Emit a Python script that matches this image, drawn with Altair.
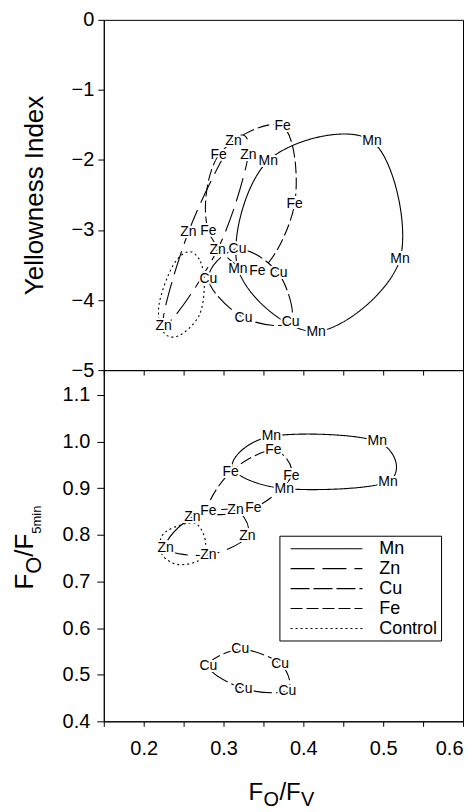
import altair as alt
import pandas as pd

FONT = "Liberation Sans"

series = ["Mn", "Zn", "Cu", "Fe", "Control"]
dashes = [[1, 0], [24, 8], [19, 4], [12, 4], [2, 3]]

x_ticks = [0.15, 0.2, 0.25, 0.3, 0.35, 0.4, 0.45, 0.5, 0.55, 0.6]
top_y_ticks = [-5, -4, -3, -2, -1, 0]
bot_y_ticks = [0.4, 0.5, 0.6, 0.7, 0.8, 0.9, 1.0, 1.1]

# ---- top panel: Yellowness Index vs Fo/Fv ----
top_mn_x = [0.356, 0.486, 0.521, 0.416, 0.318]
top_mn_y = [-2.01, -1.73, -3.42, -4.45, -3.55]
top_zn_x = [0.225, 0.256, 0.3125, 0.331, 0.2925]
top_zn_y = [-4.37, -3.03, -1.73, -1.93, -3.28]
top_cu_x = [0.3175, 0.369, 0.384, 0.325, 0.281]
top_cu_y = [-3.27, -3.62, -4.31, -4.25, -3.70]
top_fe_x = [0.281, 0.294, 0.374, 0.389, 0.3425]
top_fe_y = [-3.01, -1.93, -1.52, -2.63, -3.59]
top_ctl_x = [0.256, 0.271, 0.276, 0.269, 0.244, 0.225, 0.219, 0.236]
top_ctl_y = [-3.31, -3.45, -3.80, -4.23, -4.51, -4.46, -4.08, -3.52]

# ---- bottom panel: Fo/F5min vs Fo/Fv ----
bot_mn_x = [0.360, 0.4925, 0.506, 0.376, 0.311]
bot_mn_y = [1.011, 1.000, 0.914, 0.899, 0.945]
bot_mn_lab = ["Mn", "Mn", "Mn", "Mn", ""]
bot_zn_x = [0.261, 0.315, 0.330, 0.281, 0.2275]
bot_zn_y = [0.838, 0.852, 0.797, 0.757, 0.772]
bot_cu_x = [0.321, 0.371, 0.380, 0.325, 0.281]
bot_cu_y = [0.554, 0.523, 0.466, 0.470, 0.518]
bot_fe_x = [0.309, 0.3625, 0.385, 0.3375, 0.281]
bot_fe_y = [0.935, 0.981, 0.926, 0.857, 0.850]
bot_ctl_x = [0.231, 0.256, 0.269, 0.2775, 0.271, 0.244, 0.224, 0.221]
bot_ctl_y = [0.810, 0.825, 0.819, 0.783, 0.747, 0.736, 0.755, 0.789]


def build(parts):
    rows = []
    for name, xs, ys, labs in parts:
        for i, (xv, yv) in enumerate(zip(xs, ys)):
            lab = labs[i] if labs is not None else ("" if name == "Control" else name)
            rows.append({"elem": name, "idx": i, "x": xv, "y": yv, "lab": lab})
    return pd.DataFrame(rows)


top_df = build([
    ("Mn", top_mn_x, top_mn_y, None),
    ("Zn", top_zn_x, top_zn_y, None),
    ("Cu", top_cu_x, top_cu_y, None),
    ("Fe", top_fe_x, top_fe_y, None),
    ("Control", top_ctl_x, top_ctl_y, None),
])
bot_df = build([
    ("Mn", bot_mn_x, bot_mn_y, bot_mn_lab),
    ("Zn", bot_zn_x, bot_zn_y, None),
    ("Cu", bot_cu_x, bot_cu_y, None),
    ("Fe", bot_fe_x, bot_fe_y, None),
    ("Control", bot_ctl_x, bot_ctl_y, None),
])

W = 360
H_TOP = 351
H_BOT = 352

x_scale = alt.Scale(domain=[0.15, 0.6], nice=False, zero=False)


def panel(df, y_enc, x_axis, legend):
    base = alt.Chart(df)
    x_enc = alt.X("x:Q", scale=x_scale, axis=x_axis)
    lines = base.mark_line(interpolate="cardinal-closed", color="black", strokeWidth=1.1).encode(
        x=x_enc,
        y=y_enc,
        strokeDash=alt.StrokeDash("elem:N", scale=alt.Scale(domain=series, range=dashes), legend=legend),
        order=alt.Order("idx:Q"),
    )
    lab_df = base.transform_filter("datum.lab != ''")
    halo = lab_df.mark_text(font=FONT, fontSize=14, fill="white", stroke="white", strokeWidth=4).encode(
        x=x_enc, y=y_enc, text="lab:N")
    labels = lab_df.mark_text(font=FONT, fontSize=14, color="black").encode(
        x=x_enc, y=y_enc, text="lab:N")
    return [lines, halo, labels]


top_layers = panel(
    top_df,
    alt.Y("y:Q", scale=alt.Scale(domain=[-5, 0], nice=False, zero=False),
          axis=alt.Axis(values=top_y_ticks, format="d", title="Yellowness Index",
                        titleFont=FONT, titleFontSize=26, titleFontWeight="normal",
                        titlePadding=24, labelFontSize=20, tickSize=6, labelPadding=4, grid=False)),
    alt.Axis(values=x_ticks, labels=False, title=None, tickSize=5, grid=False),
    None,
)
top = alt.layer(*top_layers).properties(width=W, height=H_TOP)

legend = alt.Legend(
    orient="none", legendX=176, legendY=166, title=None,
    symbolType="M-0.2,0H7.8", symbolSize=324, symbolStrokeWidth=1.1,
    symbolStrokeColor="black", symbolFillColor="transparent",
    labelFont=FONT, labelFontSize=18, labelColor="black", labelOffset=77,
    labelExpr="datum.label + '\u00a0\u00a0'",
    padding=3, rowPadding=1, strokeColor="black", fillColor="white",
)

bot_layers = panel(
    bot_df,
    alt.Y("y:Q", scale=alt.Scale(domain=[0.4, 1.153], nice=False, zero=False),
          axis=alt.Axis(values=bot_y_ticks, format=".1f", title=None,
                        labelFontSize=20, tickSize=7, labelPadding=7, grid=False)),
    alt.Axis(values=x_ticks, title=None, tickSize=5, labelPadding=12, labelFontSize=20, grid=False,
             labelExpr="(round(datum.value*100) % 10 == 0) ? format(datum.value, '.1f') : ''"),
    legend,
)

# axis titles with subscripts (text pieces)
title_pieces = [
    # text, fontSize, x, y, angle
    ("F", 24, 145, 431, 0),
    ("O", 20, 160, 437, 0),
    ("/F", 24, 176, 431, 0),
    ("V", 20, 197.7, 437, 0),
    ("F", 26, -71, 220, 270),
    ("O", 22, -63, 204, 270),
    ("/F", 26, -71, 187, 270),
    ("5min", 13, -63, 164, 270),
]
title_marks = []
for t, fs, px, py, ang in title_pieces:
    title_marks.append(
        alt.Chart(pd.DataFrame({"t": [t]})).mark_text(
            font=FONT, fontSize=fs, color="black", align="left", baseline="alphabetic", angle=ang
        ).encode(x=alt.value(px), y=alt.value(py), text="t:N")
    )

bottom = alt.layer(*bot_layers, *title_marks).properties(width=W, height=H_BOT)

chart = alt.vconcat(top, bottom, spacing=0, bounds="flush").resolve_scale(
    strokeDash="independent"
).properties(
    padding={"left": 3, "top": 0, "right": 2, "bottom": 0},
    background="white",
).configure_view(
    stroke="black", strokeWidth=1
).configure_axis(
    labelFont=FONT, labelColor="black", titleColor="black",
    domainColor="black", tickColor="black", domainWidth=1, tickWidth=1,
)

chart.save("out.html", embed_options={"renderer": "svg", "actions": False})
